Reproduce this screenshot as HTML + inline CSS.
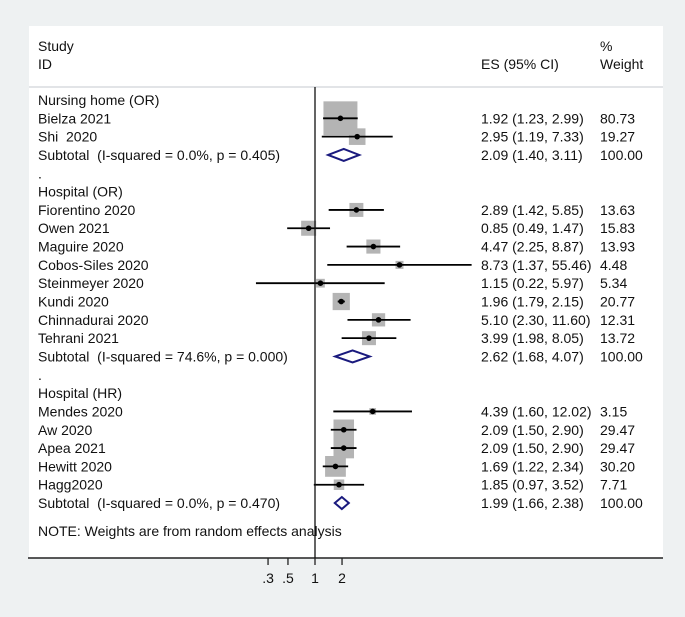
<!DOCTYPE html>
<html><head><meta charset="utf-8"><style>
body{margin:0;background:#eef1f2;}
svg{display:block;font-family:"Liberation Sans",Arial,sans-serif;}
text{white-space:pre;}
</style></head><body>
<svg id="c" width="685" height="617">
<rect x="29" y="26" width="634" height="532" fill="#fff"/>
<line x1="29" y1="87" x2="663" y2="87" stroke="#d8dcdf" stroke-width="1.5"/>
<g font-size="14" fill="#111">
<text x="38" y="51">Study</text>
<text x="38" y="69">ID</text>
<text x="481" y="69">ES (95% CI)</text>
<text x="600" y="51">%</text>
<text x="600" y="69">Weight</text>
</g>
<g id="rows"></g>
<line x1="28" y1="558" x2="663" y2="558" stroke="#222" stroke-width="1.5"/>
<line x1="315" y1="87" x2="315" y2="558" stroke="#111" stroke-width="1.3"/>
<g id="ticks"></g>
</svg>
<script>
const labels=["Nursing home (OR)","Bielza 2021","Shi  2020","Subtotal  (I-squared = 0.0%, p = 0.405)",".","Hospital (OR)","Fiorentino 2020","Owen 2021","Maguire 2020","Cobos-Siles 2020","Steinmeyer 2020","Kundi 2020","Chinnadurai 2020","Tehrani 2021","Subtotal  (I-squared = 74.6%, p = 0.000)",".","Hospital (HR)","Mendes 2020","Aw 2020","Apea 2021","Hewitt 2020","Hagg2020","Subtotal  (I-squared = 0.0%, p = 0.470)"];
const kinds=["h","s","s","d","b","h","s","s","s","s","s","s","s","s","d","b","h","s","s","s","s","s","d"];
const es=[null,1.92,2.95,2.09,null,null,2.89,0.85,4.47,8.73,1.15,1.96,5.10,3.99,2.62,null,null,4.39,2.09,2.09,1.69,1.85,1.99];
const lo=[null,1.23,1.19,1.40,null,null,1.42,0.49,2.25,1.37,0.22,1.79,2.30,1.98,1.68,null,null,1.60,1.50,1.50,1.22,0.97,1.66];
const hi=[null,2.99,7.33,3.11,null,null,5.85,1.47,8.87,55.46,5.97,2.15,11.60,8.05,4.07,null,null,12.02,2.90,2.90,2.34,3.52,2.38];
const wt=[null,80.73,19.27,100.00,null,null,13.63,15.83,13.93,4.48,5.34,20.77,12.31,13.72,100.00,null,null,3.15,29.47,29.47,30.20,7.71,100.00];
const tickVals=[0.3,0.5,1,2];
const tickLabels=[".3",".5","1","2"];
const NS="http://www.w3.org/2000/svg";
const X=v=>315+39*Math.log(v);
const Y=i=>100+i*18.32;
const g=document.getElementById('rows');
function mk(t,a,p){const e=document.createElementNS(NS,t);for(const k in a)e.setAttribute(k,a[k]);(p||g).appendChild(e);return e;}
const f=v=>v.toFixed(2);
labels.forEach((lab,i)=>{
  const y=Y(i);
  const t=mk('text',{x:38,y:y+5,'font-size':14,fill:'#111'});
  t.textContent=lab;
  
  
  if(es[i]==null)return;
  const e=mk('text',{x:481,y:y+5,'font-size':14,fill:'#111'});
  e.textContent=f(es[i])+" ("+f(lo[i])+", "+f(hi[i])+")";
  
  
  const w=mk('text',{x:600,y:y+5,'font-size':14,fill:'#111'});
  w.textContent=f(wt[i]);
  
  
  if(kinds[i]=="s"){
    const s=3.78*Math.sqrt(wt[i]);
    const b=mk('rect',{x:X(es[i])-s/2,y:y-s/2,width:s,height:s,fill:'#b4b4b4'});
    
    
    const l=mk('line',{x1:X(lo[i]),x2:X(hi[i]),y1:y,y2:y,stroke:'#000','stroke-width':1.8});
    
    
    const d=mk('circle',{cx:X(es[i]),cy:y,r:2.8,fill:'#000'});
    
    
  } else {
    const a=X(lo[i]),b=X(hi[i]),c=X(es[i]);
    const p=mk('polygon',{points:`${a},${y} ${c},${y-6} ${b},${y} ${c},${y+6}`,fill:'none',stroke:'#1a1a7e','stroke-width':2});
    
    
  }
});
const n=mk('text',{x:38,y:536,'font-size':14,fill:'#111'});
n.textContent="NOTE: Weights are from random effects analysis";


const tg=document.getElementById('ticks');
tickVals.forEach((v,i)=>{
  const l=mk('line',{x1:X(v),x2:X(v),y1:558,y2:565,stroke:'#222','stroke-width':1.3},tg);
  
  
  const t=mk('text',{x:X(v),y:583,'font-size':14,fill:'#111','text-anchor':'middle'},tg);
  t.textContent=tickLabels[i];
  
  
});
</script>
</body></html>
